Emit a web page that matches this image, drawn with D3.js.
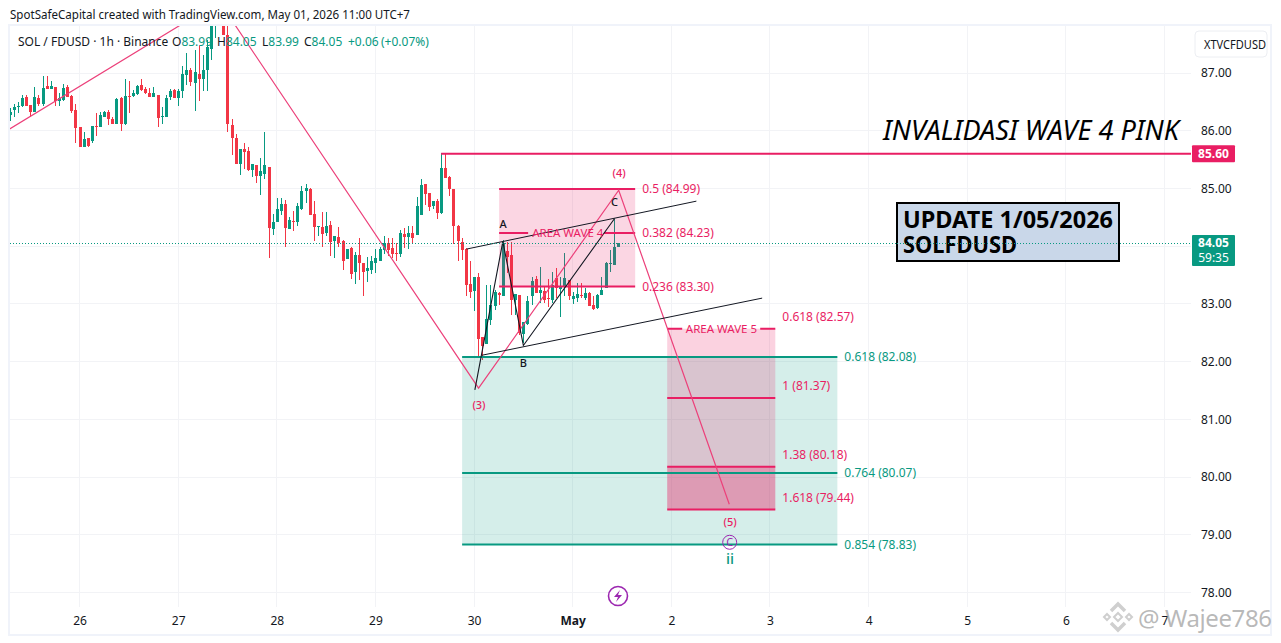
<!DOCTYPE html>
<html>
<head>
<meta charset="utf-8">
<script src="https://cdn.jsdelivr.net/npm/d3@7"></script>
<style>
  html, body { margin: 0; padding: 0; background: #fff; overflow: hidden; }
  text { font-family: "Noto Sans", sans-serif; }
</style>
</head>
<body>
<svg width="1281" height="643"></svg>
<script>
// hourly candles, first one is Apr 25 07:00, last one May 1 11:00
var opens = [
  86.27,86.36,86.42,86.42,86.58,86.44,86.33,86.57,86.46,86.78,
  86.73,86.75,86.51,86.53,86.75,86.60,86.36,86.06,85.71,85.87,
  85.83,86.08,86.06,86.24,86.33,86.20,86.12,86.56,86.12,86.61,
  86.60,86.64,86.79,86.72,86.66,86.59,86.62,86.23,86.24,86.58,
  86.70,86.56,86.68,86.97,87.06,86.83,86.98,86.90,87.05,87.42,
  87.95,88.00,88.10,87.66,86.10,85.87,85.43,85.68,85.65,85.32,
  85.41,85.22,85.25,85.37,84.30,84.42,84.61,84.73,84.30,84.44,
  84.42,84.64,84.96,84.99,84.56,84.33,84.33,84.22,84.37,84.09,
  84.16,84.09,83.78,83.97,83.55,83.85,83.71,83.57,83.59,83.71,
  83.74,83.93,84.06,83.97,83.88,83.86,84.21,84.16,84.23,84.19,
  84.54,85.08,84.92,84.70,84.78,84.57,85.35,85.20,84.99,84.35,
  84.08,83.95,83.34,83.23,83.47,82.42,82.30,82.72,82.97,83.19,
  83.14,83.91,83.85,83.07,83.15,82.48,82.65,83.13,83.43,83.18,
  83.22,83.10,83.07,83.44,83.26,83.30,83.41,83.08,83.11,83.15,
  83.10,83.18,82.98,82.93,83.15,83.27,83.69,83.67,83.99
];
var highs = [
  86.39,86.47,86.50,86.62,86.62,86.44,86.76,86.62,86.94,86.95,
  86.86,86.75,86.65,86.81,86.80,86.62,86.46,86.07,85.98,85.88,
  86.08,86.30,86.33,86.34,86.36,86.24,86.56,86.58,86.89,86.86,
  86.71,86.79,86.89,86.75,86.74,86.76,86.62,86.41,86.62,86.73,
  86.73,86.73,87.12,87.35,87.08,87.40,87.49,87.31,87.57,88.10,
  88.30,88.30,88.40,87.85,86.20,85.94,85.68,85.79,85.72,85.42,
  85.41,85.53,85.98,85.37,84.56,84.83,84.83,84.80,84.51,84.61,
  84.75,85.04,85.08,85.01,84.78,84.35,84.59,84.59,84.44,84.18,
  84.33,84.11,83.95,83.99,83.90,84.14,83.71,83.81,83.83,83.95,
  83.99,84.18,84.14,84.14,84.06,84.28,84.32,84.35,84.35,84.85,
  85.16,85.08,84.92,84.78,84.82,85.61,85.61,85.22,84.99,84.37,
  84.14,83.96,83.75,83.47,83.53,82.43,83.33,83.33,83.24,83.21,
  84.11,84.08,84.08,83.17,83.15,82.69,83.13,83.47,83.48,83.64,
  83.30,83.43,83.56,83.62,83.47,83.89,83.41,83.20,83.36,83.37,
  83.27,83.20,83.13,83.17,83.47,83.72,83.93,84.47,84.05
];
var lows = [
  86.17,86.24,86.30,86.41,86.42,86.23,86.32,86.42,86.42,86.73,
  86.73,86.43,86.42,86.52,86.59,86.30,85.78,85.71,85.71,85.72,
  85.78,85.91,86.06,86.23,86.10,86.12,86.12,86.00,86.10,86.31,
  86.58,86.62,86.69,86.64,86.59,86.59,86.07,86.12,86.23,86.54,
  86.56,86.43,86.56,86.79,86.78,86.35,86.52,86.69,86.68,87.23,
  87.61,87.90,87.66,85.97,85.58,85.43,85.24,85.34,85.31,85.20,
  85.10,84.89,85.16,83.80,84.20,84.42,84.54,83.99,84.30,84.26,
  84.35,84.63,84.75,84.54,84.09,84.18,83.99,84.18,83.83,83.80,
  83.99,83.59,83.78,83.43,83.34,83.41,83.14,83.38,83.52,83.54,
  83.74,83.86,83.83,83.80,83.74,83.81,83.97,83.95,84.06,84.19,
  84.54,84.71,84.61,84.64,84.47,84.56,85.18,84.87,84.04,83.74,
  83.76,83.13,83.11,82.87,82.09,82.03,82.30,82.63,82.89,82.98,
  83.14,83.53,82.81,82.81,82.46,82.32,82.63,82.98,83.18,83.01,
  83.01,82.95,83.01,83.10,82.78,83.13,83.07,83.00,83.04,83.10,
  83.07,82.97,82.89,82.92,83.15,83.27,83.56,83.67,83.99
];
var closes = [
  86.33,86.41,86.43,86.57,86.43,86.33,86.59,86.47,86.74,86.73,
  86.78,86.51,86.56,86.74,86.59,86.35,86.05,85.71,85.86,85.74,
  86.08,86.07,86.28,86.32,86.20,86.12,86.55,86.12,86.61,86.60,
  86.65,86.78,86.71,86.65,86.59,86.65,86.22,86.26,86.56,86.69,
  86.57,86.69,86.98,87.06,86.84,87.02,86.90,87.06,87.45,87.95,
  88.10,88.20,87.66,86.11,85.88,85.43,85.68,85.63,85.32,85.42,
  85.22,85.30,85.41,84.32,84.42,84.64,84.73,84.31,84.45,84.42,
  84.70,84.96,85.01,84.54,84.33,84.35,84.21,84.35,84.07,84.18,
  84.06,83.74,83.95,83.52,83.85,83.71,83.55,83.62,83.74,83.80,
  83.95,84.06,83.93,83.86,83.86,84.23,84.16,84.23,84.14,84.70,
  85.06,84.90,84.68,84.78,84.57,85.35,85.18,84.99,84.35,84.09,
  83.93,83.33,83.21,83.47,82.39,82.27,82.74,82.98,83.21,83.15,
  84.05,83.82,83.07,83.17,82.50,82.68,83.05,83.40,83.19,83.24,
  83.07,83.08,83.33,83.27,83.30,83.44,83.13,83.14,83.17,83.13,
  83.18,82.97,82.91,83.15,83.24,83.70,83.70,83.98,84.05
];

var dayTicks = [26, 27, 28, 29, 30, "May", 2, 3, 4, 5, 6, 7];
var dayHours = [0, 24, 48, 72, 96, 120, 144, 168, 192, 216, 240, 264];
var priceTicks = [78, 79, 80, 81, 82, 83, 84, 85, 86, 87];

// drawings, [hour since Apr 26 00:00, price]
var waveLine = [[-17, 86.03], [34, 88.24], [97.1, 81.54], [131.2, 84.97], [158.1, 79.53]];
var abcLine = [[96.2, 81.51], [103, 84.08], [108, 82.28], [130.2, 84.48]];
var channelTop = [[94.2, 83.95], [150.1, 84.78]];
var channelBottom = [[97.9, 82.11], [166.1, 83.10]];
var invalidLine = [[88, 85.60], [300, 85.60]];
var wave4Hours = [102.1, 135.2];
var wave4Levels = [84.99, 84.23, 83.30];
var wave4Names = ["0.5 (84.99)", "0.382 (84.23)", "0.236 (83.30)"];
var wave5Hours = [143, 169.3];
var wave5Levels = [82.57, 81.37, 80.18, 79.44];
var wave5Names = ["0.618 (82.57)", "1 (81.37)", "1.38 (80.18)", "1.618 (79.44)"];
var greenHours = [93.1, 184.4];
var greenLevels = [82.08, 80.07, 78.83];
var greenNames = ["0.618 (82.08)", "0.764 (80.07)", "0.854 (78.83)"];

var pink = "#e91e63", green = "#089981", red = "#f23645", ink = "#131722", purple = "#9c27b0";
var hour = 3600000;
var t0 = Date.UTC(2026, 3, 26, 0);
function toDate(h) { return new Date(t0 + h * hour); }

var svg = d3.select("svg");
var left = 10, right = 1191, top_ = 26, bottom = 607;

var x = d3.scaleUtc().domain([toDate(0), toDate(264)]).range([79.5, 1164.5]);
var y = d3.scaleLinear().domain([78, 87]).range([592.5, 73]);

function X(h) { return x(toDate(h)); }

// outer frame
svg.append("rect").attr("x", 9).attr("y", 25).attr("width", 1262).attr("height", 610)
  .attr("fill", "none").attr("stroke", "#f0f3fa").attr("stroke-width", 2);

// grid
var grid = svg.append("g").attr("shape-rendering", "crispEdges");
grid.selectAll(".gx").data(dayHours).enter().append("line")
  .attr("x1", function(d) { return X(d); }).attr("x2", function(d) { return X(d); })
  .attr("y1", top_).attr("y2", bottom).attr("stroke", "#f2f3f6");
grid.selectAll(".gy").data(priceTicks).enter().append("line")
  .attr("x1", left).attr("x2", right)
  .attr("y1", function(d) { return y(d); }).attr("y2", function(d) { return y(d); })
  .attr("stroke", "#f2f3f6");

svg.append("clipPath").attr("id", "pane").append("rect")
  .attr("x", left).attr("y", top_).attr("width", right - left).attr("height", bottom - top_);
var pane = svg.append("g").attr("clip-path", "url(#pane)");

// candles
var candles = pane.append("g").attr("shape-rendering", "crispEdges");
var idx = d3.range(opens.length);
function cx(i) { return Math.round(X(i - 17)); }
function col(i) { return closes[i] >= opens[i] ? green : red; }
candles.selectAll(".wick").data(idx).enter().append("line")
  .attr("x1", function(i) { return cx(i) + 0.5; }).attr("x2", function(i) { return cx(i) + 0.5; })
  .attr("y1", function(i) { return y(highs[i]); }).attr("y2", function(i) { return y(lows[i]); })
  .attr("stroke", col);
candles.selectAll(".body").data(idx).enter().append("rect")
  .attr("x", function(i) { return cx(i) - 1; }).attr("width", 3)
  .attr("y", function(i) { return y(Math.max(opens[i], closes[i])); })
  .attr("height", function(i) { return Math.max(1, Math.abs(y(opens[i]) - y(closes[i]))); })
  .attr("fill", col);

var line = d3.line().x(function(d) { return X(d[0]); }).y(function(d) { return y(d[1]); });

// last price dotted line
var lastY = Math.round(y(84.05)) + 0.5;
svg.append("line").attr("x1", left).attr("x2", right)
  .attr("y1", lastY).attr("y2", lastY).attr("shape-rendering", "crispEdges")
  .attr("stroke", green).attr("stroke-dasharray", "1 2");

// green fib
pane.append("rect").attr("x", X(greenHours[0])).attr("width", X(greenHours[1]) - X(greenHours[0]))
  .attr("y", y(greenLevels[0])).attr("height", y(greenLevels[2]) - y(greenLevels[0]))
  .attr("fill", green).attr("fill-opacity", 0.17);

// wave 4 box
pane.append("rect").attr("x", X(wave4Hours[0])).attr("width", X(wave4Hours[1]) - X(wave4Hours[0]))
  .attr("y", y(wave4Levels[0])).attr("height", y(wave4Levels[2]) - y(wave4Levels[0]))
  .attr("fill", pink).attr("fill-opacity", 0.18);

// wave 5 box
pane.append("rect").attr("x", X(wave5Hours[0])).attr("width", X(wave5Hours[1]) - X(wave5Hours[0]))
  .attr("y", y(wave5Levels[0])).attr("height", y(wave5Levels[2]) - y(wave5Levels[0]))
  .attr("fill", pink).attr("fill-opacity", 0.2);
pane.append("rect").attr("x", X(wave5Hours[0])).attr("width", X(wave5Hours[1]) - X(wave5Hours[0]))
  .attr("y", y(wave5Levels[2])).attr("height", y(wave5Levels[3]) - y(wave5Levels[2]))
  .attr("fill", pink).attr("fill-opacity", 0.4);

// fib levels
pane.selectAll(".lg").data(greenLevels).enter().append("line")
  .attr("x1", X(greenHours[0])).attr("x2", X(greenHours[1]))
  .attr("y1", function(d) { return y(d); }).attr("y2", function(d) { return y(d); })
  .attr("stroke", green).attr("stroke-width", 2);
pane.selectAll(".l5").data(wave5Levels).enter().append("line")
  .attr("x1", X(wave5Hours[0])).attr("x2", X(wave5Hours[1]))
  .attr("y1", function(d) { return y(d); }).attr("y2", function(d) { return y(d); })
  .attr("stroke", pink).attr("stroke-width", 2)
  .attr("stroke-dasharray", function(d, i) { return i == 0 ? "15 78 200" : null; });
pane.selectAll(".l4").data(wave4Levels).enter().append("line")
  .attr("x1", X(wave4Hours[0])).attr("x2", X(wave4Hours[1]))
  .attr("y1", function(d) { return y(d); }).attr("y2", function(d) { return y(d); })
  .attr("stroke", pink).attr("stroke-width", 2)
  .attr("stroke-dasharray", function(d, i) { return i == 1 ? "29 76 200" : null; });

// wave and channel lines
pane.append("path").attr("d", line(waveLine)).attr("fill", "none").attr("stroke", "#ec407a").attr("stroke-width", 1.2);
pane.append("path").attr("d", line(abcLine)).attr("fill", "none").attr("stroke", ink).attr("stroke-width", 1.1);
pane.append("path").attr("d", line(channelTop)).attr("fill", "none").attr("stroke", ink).attr("stroke-width", 1);
pane.append("path").attr("d", line(channelBottom)).attr("fill", "none").attr("stroke", ink).attr("stroke-width", 1);
pane.append("path").attr("d", line(invalidLine)).attr("fill", "none").attr("stroke", pink).attr("stroke-width", 2);

function label(px, py, str, color, size, anchor, weight) {
  return svg.append("text").attr("x", px).attr("y", py)
    .attr("dy", "0.35em")
    .attr("text-anchor", anchor || "start")
    .attr("font-size", size || 12)
    .attr("font-weight", weight || null)
    .attr("fill", color).text(str);
}

// fib labels
wave4Names.forEach(function(s, i) { label(X(wave4Hours[1]) + 7, y(wave4Levels[i]), s, pink); });
greenNames.forEach(function(s, i) { label(X(greenHours[1]) + 7, y(greenLevels[i]), s, green); });
wave5Names.forEach(function(s, i) { label(X(wave5Hours[1]) + 7, y(wave5Levels[i]) - 12, s, pink); });
label(X(118.8), y(84.23), "AREA WAVE 4", pink, 11.5, "middle");
label(X(156.2), y(82.57), "AREA WAVE 5", pink, 11.5, "middle");

// wave labels
label(X(103.1), y(84.39), "A", ink, 11, "middle", 500);
label(X(108), y(81.97), "B", ink, 11, "middle", 500);
label(X(130.2), y(84.77), "C", ink, 11, "middle", 500);
label(X(97.2), y(81.24), "(3)", pink, 11, "middle", 500);
label(X(131.3), y(85.27), "(4)", pink, 11, "middle", 500);
label(X(158.3), y(79.22), "(5)", pink, 11, "middle", 500);
svg.append("circle").attr("cx", X(158.2)).attr("cy", y(78.87)).attr("r", 7)
  .attr("fill", "none").attr("stroke", purple);
label(X(158.2), y(78.87), "C", purple, 11, "middle");
label(X(158.3), y(78.58), "ii", green, 15, "middle", 500);

// header
svg.append("text").attr("x", 10).attr("y", 19).attr("font-size", 12).attr("fill", ink)
  .attr("textLength", 400).attr("lengthAdjust", "spacingAndGlyphs")
  .text("SpotSafeCapital created with TradingView.com, May 01, 2026 11:00 UTC+7");
var head = svg.append("text").attr("y", 46).attr("font-size", 12).attr("fill", ink);
head.append("tspan").attr("x", 18).text("SOL / FDUSD · 1h · Binance");
head.append("tspan").attr("x", 172).text("O");
head.append("tspan").attr("fill", green).text("83.99");
head.append("tspan").attr("x", 217).text("H");
head.append("tspan").attr("fill", green).text("84.05");
head.append("tspan").attr("x", 262).text("L");
head.append("tspan").attr("fill", green).text("83.99");
head.append("tspan").attr("x", 304).text("C");
head.append("tspan").attr("fill", green).text("84.05");
head.append("tspan").attr("x", 348).attr("fill", green).text("+0.06");
head.append("tspan").attr("x", 381).attr("fill", green).text("(+0.07%)");

// price axis
var yAxis = d3.axisRight(y).tickValues(priceTicks).tickSize(0).tickPadding(0)
  .tickFormat(function(d) { return d3.format(".2f")(d); });
var yg = svg.append("g").attr("transform", "translate(1201,0)").call(yAxis);
yg.select(".domain").remove();
yg.selectAll("text").attr("font-size", 12).attr("fill", ink).attr("font-family", '"Noto Sans", sans-serif');

// time axis
var xAxis = d3.axisBottom(x).tickValues(dayHours.map(toDate)).tickSize(0).tickPadding(0)
  .tickFormat(function(d, i) { return dayTicks[i]; });
var xg = svg.append("g").attr("transform", "translate(0,616)").call(xAxis);
xg.select(".domain").remove();
xg.selectAll("text").attr("font-size", 12).attr("fill", ink).attr("font-family", '"Noto Sans", sans-serif')
  .attr("font-weight", function(d, i) { return i == 5 ? "bold" : null; });

// price labels on the axis
svg.append("rect").attr("x", 1192).attr("y", y(85.60) - 8.5).attr("width", 43).attr("height", 17)
  .attr("rx", 1).attr("fill", pink);
label(1213.5, y(85.60), "85.60", "#fff", 12, "middle", "bold");
svg.append("rect").attr("x", 1192).attr("y", 235).attr("width", 43).attr("height", 31)
  .attr("rx", 1).attr("fill", green);
label(1213.5, 243, "84.05", "#fff", 12, "middle", "bold");
label(1213.5, 257.5, "59:35", "#fff", 12, "middle");

// symbol button
svg.append("rect").attr("x", 1195).attr("y", 31).attr("width", 72).attr("height", 26).attr("rx", 4)
  .attr("fill", "#fff").attr("stroke", "#eceef2");
label(1204, 44.5, "XTVCFDUSD", ink, 12, "start").attr("textLength", 62).attr("lengthAdjust", "spacingAndGlyphs");

// big notes
svg.append("text").attr("x", 883).attr("y", 140).attr("font-size", 27).attr("font-style", "italic")
  .attr("fill", "#000").attr("textLength", 296).attr("lengthAdjust", "spacingAndGlyphs")
  .text("INVALIDASI WAVE 4 PINK");
svg.append("rect").attr("x", 897).attr("y", 203).attr("width", 222).attr("height", 58)
  .attr("fill", "#c9d7e9").attr("stroke", "#000").attr("stroke-width", 2);
svg.append("text").attr("x", 903).attr("y", 228).attr("font-size", 24).attr("font-weight", "bold")
  .attr("fill", "#000").attr("textLength", 210).attr("lengthAdjust", "spacingAndGlyphs")
  .text("UPDATE 1/05/2026");
svg.append("text").attr("x", 903).attr("y", 253).attr("font-size", 24).attr("font-weight", "bold")
  .attr("fill", "#000").attr("textLength", 114).attr("lengthAdjust", "spacingAndGlyphs")
  .text("SOLFDUSD");
svg.append("line").attr("x1", 897).attr("x2", 1119).attr("y1", lastY).attr("y2", lastY)
  .attr("shape-rendering", "crispEdges").attr("stroke", green).attr("stroke-dasharray", "1 2");

// lightning icon
svg.append("circle").attr("cx", 618).attr("cy", 596).attr("r", 9.5)
  .attr("fill", "#fff").attr("stroke", purple).attr("stroke-width", 1.6);
svg.append("path").attr("d", "M620 590 L614 597 L618 597 L616 602 L622 595 L618 595 Z").attr("fill", purple);

// watermark
var logo = svg.append("g").attr("transform", "translate(1118,617)").attr("fill", "none")
  .attr("stroke", "#cfcfcf").attr("stroke-width", 3.5);
logo.append("path").attr("d", "M-7 -6 L0 -13 L7 -6");
logo.append("path").attr("d", "M-7 6 L0 13 L7 6");
logo.append("path").attr("d", "M-4 0 L0 -4 L4 0 L0 4 Z").attr("stroke-width", 2);
logo.append("path").attr("d", "M-14 0 L-11 -3 L-8 0 L-11 3 Z").attr("stroke-width", 2);
logo.append("path").attr("d", "M14 0 L11 -3 L8 0 L11 3 Z").attr("stroke-width", 2);
svg.append("text").attr("x", 1138).attr("y", 627).attr("font-size", 24).attr("fill", "#9a9a9a").attr("fill-opacity", 0.7)
  .text("@");
svg.append("text").attr("x", 1165).attr("y", 627).attr("font-size", 24).attr("fill", "#9a9a9a").attr("fill-opacity", 0.7)
  .attr("textLength", 107).attr("lengthAdjust", "spacing")
  .text("Wajee786");
</script>
</body>
</html>
